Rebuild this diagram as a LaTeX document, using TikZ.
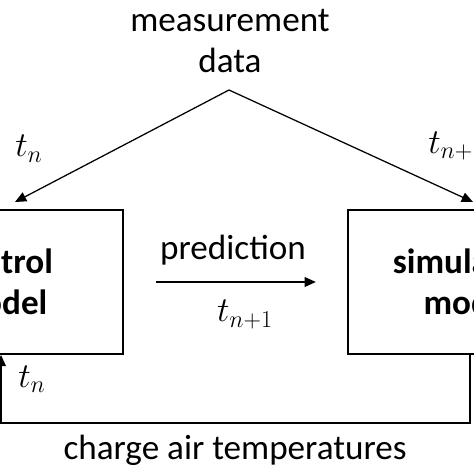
\documentclass[tikz,border=0pt]{standalone}
\usepackage{fontspec}
\setmainfont{Carlito}
\usetikzlibrary{arrows.meta,positioning,calc}

\begin{document}
\begin{tikzpicture}[
    font=\fontsize{25}{29}\selectfont,
    arr/.style={-{Triangle[length=8pt,width=7pt]}, line width=0.9pt},
    block/.style={draw, line width=1.4pt, minimum width=6.1cm, minimum height=3.6cm, align=center, font=\fontsize{25}{29}\selectfont\bfseries},
    lbl/.style={inner sep=0pt, anchor=base west}
]
    \useasboundingbox (0,0) rectangle (11.85,11.85);
    \clip (0,0) rectangle (11.85,11.85);

    % the two models
    \node[block] (ctrl) at (0.025,4.8) {control\\model};
    \node[block] (sim) at (11.75,4.8) {simulation\\model};

    % measurement data to both models
    \node[align=center] (meas) at (5.75,10.825) {measurement\\data};
    \coordinate (apex) at (5.725,9.6);
    \coordinate (tipL) at (0.375,6.8);
    \coordinate (tipR) at (11.825,6.8);
    \draw[arr] (apex) -- (tipL);
    \draw[arr] (apex) -- (tipR);
    \node[lbl] (tL) at (0.375,7.925) {$t_n$};
    \node[lbl] (tR) at (10.7,8.025) {$t_{n+1}$};

    % prediction
    \draw[arr] ([xshift=0.8cm]ctrl.east) -- ([xshift=-0.78cm]sim.west);
    \node[anchor=base, inner sep=0pt] (pred) at (5.825,5.35) {prediction};
    \node[anchor=base, inner sep=0pt] (tP) at (6.125,3.8) {$t_{n+1}$};

    % feedback loop
    \draw[arr] (sim.south) |- ($(ctrl.south)+(0,-1.7)$) -- (ctrl.south);
    \node[lbl] (tB) at (0.45,2.175) {$t_n$};
    \node[anchor=base, inner sep=0pt] (charge) at (5.875,0.35) {charge air temperatures};
\end{tikzpicture}
\end{document}
